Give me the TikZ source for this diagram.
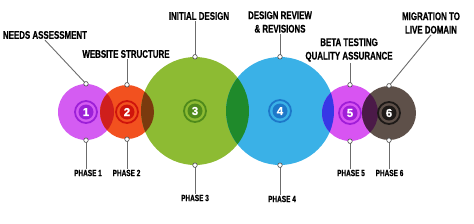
\documentclass[tikz,border=0pt]{standalone}
\usepackage{fontspec}
\setmainfont{Liberation Sans}
\newfontfamily\labelfont{Liberation Sans}[UprightFont=* Bold,FakeStretch=0.72,FakeBold=0.6]
\newfontfamily\numfont{Liberation Sans}[UprightFont=* Bold,FakeBold=0.8]
\usetikzlibrary{positioning}

\definecolor{phaseA}{HTML}{D45CF2}
\definecolor{phaseB}{HTML}{F2511F}
\definecolor{phaseC}{HTML}{8DBB33}
\definecolor{phaseD}{HTML}{3AB1E7}
\definecolor{phaseE}{HTML}{D854F2}
\definecolor{phaseF}{HTML}{5E5049}
\definecolor{badgeA}{HTML}{9C20D8}
\definecolor{badgeB}{HTML}{CF140C}
\definecolor{badgeC}{HTML}{4F8A1B}
\definecolor{badgeD}{HTML}{1D78C9}
\definecolor{badgeE}{HTML}{A01ED8}
\definecolor{badgeF}{HTML}{1E1A18}
\definecolor{overAB}{HTML}{CF1F1C}
\definecolor{overBC}{HTML}{7A3A0E}
\definecolor{overCD}{HTML}{1F8A2B}
\definecolor{overDE}{HTML}{3737E6}
\definecolor{overEF}{HTML}{4B1A48}

\tikzset{
    phase/.style={circle,inner sep=0pt,minimum size=#1},
    pindot/.style={circle,draw=gray!60!black,fill=white,line width=0.6pt,inner sep=0pt,minimum size=4.5pt},
    leader/.style={draw=gray!85!black,line width=0.9pt},
    toplabel/.style={font=\fontsize{11}{13.5}\labelfont,align=center,inner sep=1pt},
    phaselabel/.style={font=\fontsize{9}{10}\labelfont,inner sep=1pt},
    badgering/.style={circle,draw=#1,line width=1.8pt,inner sep=0pt,minimum size=22pt},
    badgedisc/.style={circle,fill=#1,inner sep=0pt,minimum size=15pt,text=white,font=\fontsize{11.5}{11.5}\numfont}
}

\begin{document}
\begin{tikzpicture}[x=1pt,y=-1pt]
    \useasboundingbox (0,0) rectangle (474,223);
    % phase circles
    \foreach \i/\x/\y/\r/\col in {1/86/112/28/phaseA,2/127/112/27/phaseB,3/195/111/54/phaseC,
                                   4/280/111/54/phaseD,5/350/113/28/phaseE,6/389/113/27/phaseF}{
        \node[phase=2*\r pt,fill=\col] (c\i) at (\x,\y) {};
    }
    % overlaps
    \foreach \xa/\ya/\ra/\xb/\yb/\rb/\col in {86/112/28/127/112/27/overAB,127/112/27/195/111/54/overBC,
                                   195/111/54/280/111/54/overCD,280/111/54/350/113/28/overDE,
                                   350/113/28/389/113/27/overEF}{
        \begin{scope}
            \clip (\xa,\ya) circle (\ra pt);
            \fill[\col] (\xb,\yb) circle (\rb pt);
        \end{scope}
    }
    % number badges
    \foreach \i/\col in {1/badgeA,2/badgeB,3/badgeC,4/badgeD,5/badgeE,6/badgeF}{
        \node[badgering=\col] at (c\i) {};
        \node[badgedisc=\col] (n\i) at (c\i) {\i};
    }

    % labels above
    \node[toplabel] (t1) at (45,35) {NEEDS ASSESSMENT};
    \node[toplabel] (t2) at (126,54) {WEBSITE STRUCTURE};
    \node[toplabel] (t3) at (199,16) {INITIAL DESIGN};
    \node[toplabel] (t4) at (280,22) {DESIGN REVIEW\\\& REVISIONS};
    \node[toplabel] (t5) at (349,50) {BETA TESTING\\QUALITY ASSURANCE};
    \node[toplabel] (t6) at (431,23) {MIGRATION TO\\LIVE DOMAIN};

    % labels below
    \node[phaselabel] (b1) at (88,173) {PHASE 1};
    \node[phaselabel] (b2) at (126.5,173) {PHASE 2};
    \node[phaselabel] (b3) at (195,198) {PHASE 3};
    \node[phaselabel] (b4) at (282,199) {PHASE 4};
    \node[phaselabel] (b5) at (351,173) {PHASE 5};
    \node[phaselabel] (b6) at (389.5,173) {PHASE 6};

    % pins
    \foreach \i in {1,...,6}{
        \coordinate (pt\i) at (c\i.north);
        \coordinate (pb\i) at (c\i.south);
    }
    \draw[leader] (t1.south) -- (pt1);
    \draw[leader] (pt2 |- t2.south) -- (pt2);
    \draw[leader] (pt3 |- t3.south) -- (pt3);
    \draw[leader] (pt4 |- t4.south) -- (pt4);
    \draw[leader] (pt5 |- t5.south) -- (pt5);
    \draw[leader] (t6.south) -- (pt6);
    \foreach \i in {1,...,6}{
        \draw[leader] (pb\i) -- (pb\i |- b\i.north);
    }
    \foreach \i in {1,...,6}{
        \node[pindot] at (pt\i) {};
        \node[pindot] at (pb\i) {};
    }
\end{tikzpicture}
\end{document}
